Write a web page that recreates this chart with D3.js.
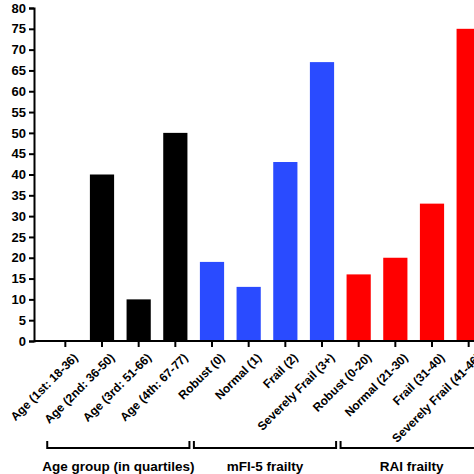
<!DOCTYPE html>
<html><head><meta charset="utf-8">
<script src="https://cdn.jsdelivr.net/npm/d3@7"></script>
<style>body{margin:0;background:#fff;font-family:"Liberation Sans",Arial,sans-serif;}</style>
</head><body><svg id="c" width="474" height="474"></svg>
<script>
var categories = ["Age (1st: 18-36)", "Age (2nd: 36-50)", "Age (3rd: 51-66)", "Age (4th: 67-77)",
  "Robust (0)", "Normal (1)", "Frail (2)", "Severely Frail (3+)",
  "Robust (0-20)", "Normal (21-30)", "Frail (31-40)", "Severely Frail (41-46)"];
var values = [0, 40, 10, 50, 19, 13, 43, 67, 16, 20, 33, 75];
var colors = ["#000", "#000", "#000", "#000", "#2a4bff", "#2a4bff", "#2a4bff", "#2a4bff",
  "#ff0000", "#ff0000", "#ff0000", "#ff0000"];
var yTicks = d3.range(0, 81, 5);
var groups = [
  {name: "Age group (in quartiles)", from: 0, to: 3},
  {name: "mFI-5 frailty", from: 4, to: 7},
  {name: "RAI frailty", from: 8, to: 11}
];

var svg = d3.select("#c");
var x = d3.scaleBand().domain(categories).range([47, 487]).paddingInner(0.34).paddingOuter(0.17);
var y = d3.scaleLinear().domain([0, 80]).range([341, 8]);

var yAxis = svg.append("g").attr("transform", "translate(34,0)")
  .call(d3.axisLeft(y).tickValues(yTicks).tickSize(5));
yAxis.select(".domain").attr("stroke-width", 2);
yAxis.selectAll(".tick line").attr("stroke-width", 2);
yAxis.selectAll("text").attr("font-size", 13).attr("font-weight", "bold").attr("fill", "#000");

svg.selectAll("rect.bar").data(values).enter().append("rect")
  .attr("class", "bar")
  .attr("x", function (d, i) { return x(categories[i]); })
  .attr("width", x.bandwidth())
  .attr("y", function (d) { return y(d); })
  .attr("height", function (d) { return y(0) - y(d); })
  .attr("fill", function (d, i) { return colors[i]; });

var xAxis = svg.append("g").attr("transform", "translate(0,341)")
  .call(d3.axisBottom(x).tickSize(6).tickSizeOuter(0));
xAxis.select(".domain").attr("d", "M34,0H474").attr("stroke-width", 2);
xAxis.selectAll(".tick line").attr("stroke-width", 2);
xAxis.selectAll("text").attr("font-size", 12).attr("font-weight", "bold").attr("fill", "#000")
  .attr("text-anchor", "end").attr("dy", "0.35em")
  .attr("transform", "translate(4,8) rotate(-45)");

groups.forEach(function (g) {
  var x0 = x(categories[g.from]) - 6, x1 = x(categories[g.to]) + x.bandwidth() + 2;
  svg.append("path").attr("d", "M" + x0 + ",441V448H" + x1 + "V441")
    .attr("fill", "none").attr("stroke", "#000").attr("stroke-width", 2);
  svg.append("text").attr("x", (x0 + x1) / 2).attr("y", 471).attr("text-anchor", "middle")
    .attr("font-size", 13.5).attr("font-weight", "bold").text(g.name);
});
</script></body></html>
